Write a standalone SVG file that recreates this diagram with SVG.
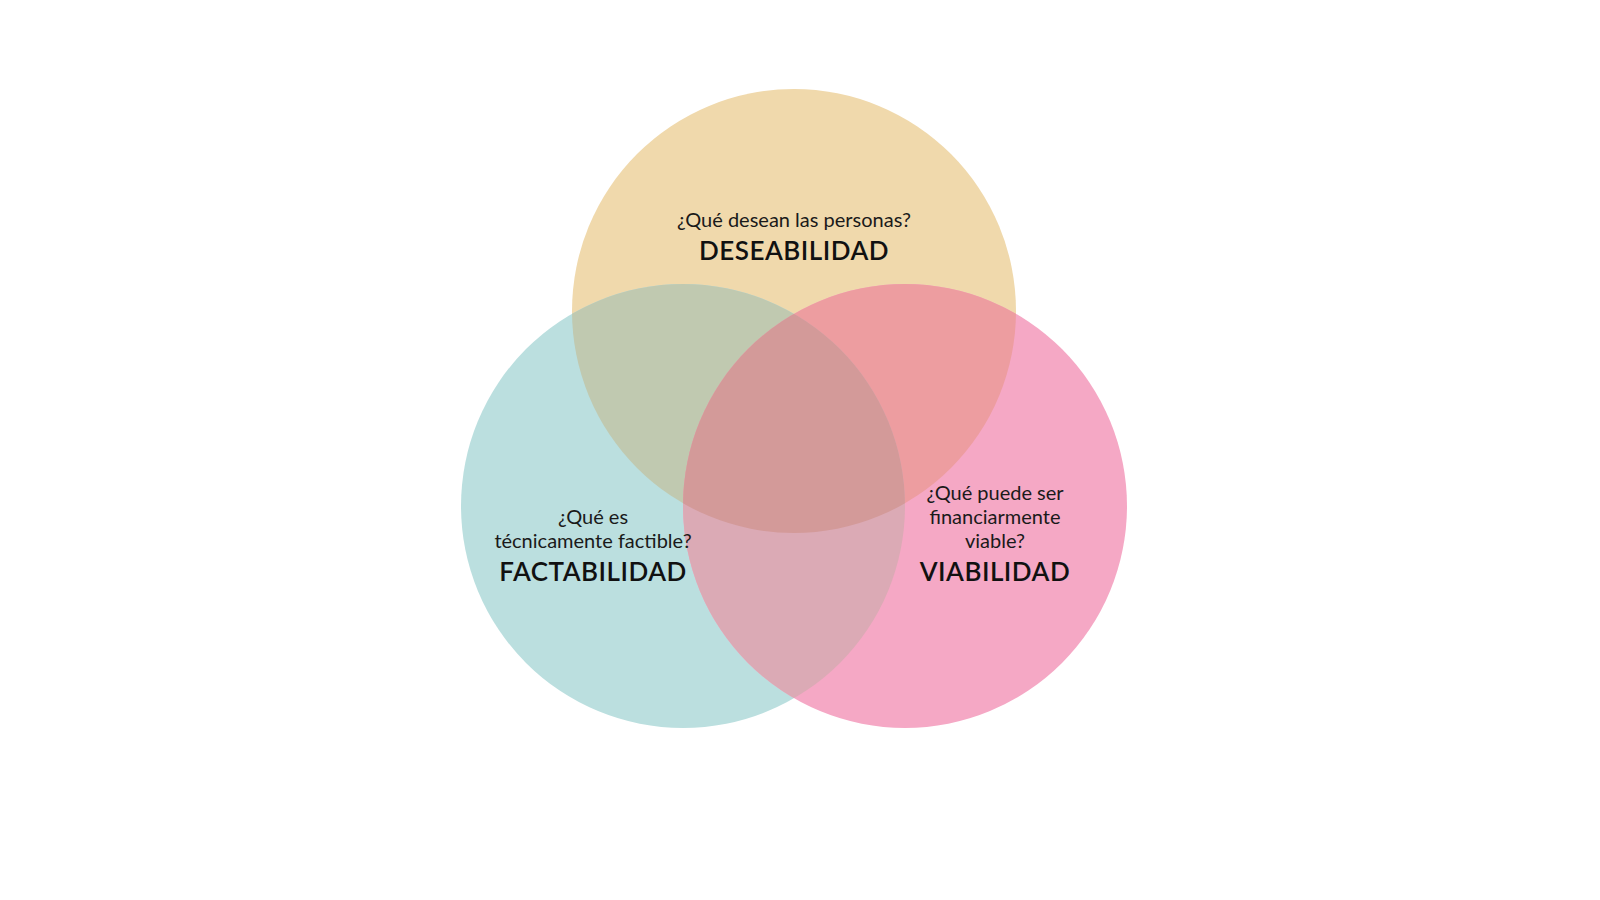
<svg xmlns="http://www.w3.org/2000/svg" width="1600" height="900" viewBox="0 0 1600 900">
<style>
.q{font-family:Lato,"Open Sans",sans-serif;font-size:20px;fill:#1a1a1a;text-anchor:middle}
.t{font-family:Lato,"Open Sans",sans-serif;font-size:26px;font-weight:600;fill:#111;text-anchor:middle;letter-spacing:0.5px}
</style>
<defs>
<clipPath id="cT"><circle cx="794" cy="311" r="222"/></clipPath>
<clipPath id="cL"><circle cx="683" cy="506" r="222"/></clipPath>
<clipPath id="cR"><circle cx="905" cy="506" r="222"/></clipPath>
</defs>
<rect width="1600" height="900" fill="#fff"/>
<g id="circles">
<circle cx="794" cy="311" r="222" fill="#f0d9ac"/>
<circle cx="683" cy="506" r="222" fill="#bbdfdf"/>
<circle cx="905" cy="506" r="222" fill="#f5a8c5"/>
<g clip-path="url(#cT)"><circle cx="683" cy="506" r="222" fill="#c0c9b0"/><circle cx="905" cy="506" r="222" fill="#ed9da0"/></g>
<g clip-path="url(#cL)"><circle cx="905" cy="506" r="222" fill="#dbaab5"/></g>
<g clip-path="url(#cL)"><g clip-path="url(#cR)"><circle cx="794" cy="311" r="222" fill="#d39a99"/></g></g>
</g>
<g id="deseabilidad">
<text class="q" x="794" y="227">¿Qué desean las personas?</text>
<text class="t" x="794" y="260">DESEABILIDAD</text>
</g>
<g id="factabilidad">
<text class="q" x="593" y="524">¿Qué es</text>
<text class="q" x="593" y="548">técnicamente factible?</text>
<text class="t" x="593" y="581">FACTABILIDAD</text>
</g>
<g id="viabilidad">
<text class="q" x="995" y="500">¿Qué puede ser</text>
<text class="q" x="995" y="524">financiarmente</text>
<text class="q" x="995" y="548">viable?</text>
<text class="t" x="995" y="581">VIABILIDAD</text>
</g>
<g id="connectors"/>
</svg>
